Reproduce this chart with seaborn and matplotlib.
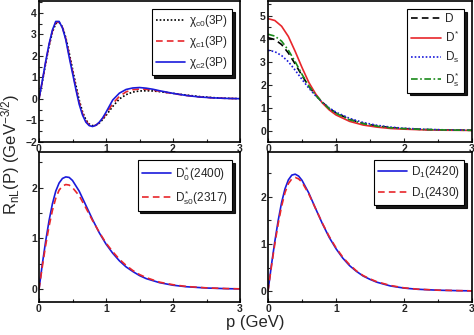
import numpy as np
import pandas as pd
import matplotlib
matplotlib.use("Agg")
import matplotlib.pyplot as plt
import seaborn as sns
from matplotlib.ticker import MultipleLocator

# ---------------- data ----------------
p_chi = [0, 0.05, 0.1, 0.15, 0.2, 0.25, 0.3, 0.35, 0.4, 0.45, 0.5, 0.55, 0.6, 0.65,
         0.7, 0.75, 0.8, 0.85, 0.9, 0.95, 1.0, 1.1, 1.2, 1.3, 1.4, 1.5, 1.6, 1.7,
         1.8, 1.9, 2.0, 2.2, 2.4, 2.6, 2.8, 3.0]
chi_c0 = [0, 0.8, 1.65, 2.45, 3.1, 3.5, 3.55, 3.35, 2.85, 2.15, 1.4, 0.65, -0.05, -0.6,
          -0.97, -1.17, -1.24, -1.22, -1.12, -0.96, -0.77, -0.35, 0.0, 0.2, 0.32, 0.37,
          0.38, 0.37, 0.34, 0.3, 0.26, 0.18, 0.11, 0.06, 0.03, 0.015]
chi_c1 = [0, 0.82, 1.7, 2.5, 3.15, 3.55, 3.58, 3.32, 2.8, 2.05, 1.3, 0.52, -0.15, -0.68,
          -1.03, -1.21, -1.26, -1.22, -1.1, -0.92, -0.7, -0.22, 0.12, 0.33, 0.43, 0.46,
          0.45, 0.41, 0.36, 0.3, 0.25, 0.16, 0.09, 0.05, 0.025, 0.012]
chi_c2 = [0, 0.85, 1.75, 2.55, 3.2, 3.6, 3.6, 3.3, 2.75, 1.95, 1.2, 0.45, -0.25, -0.75,
          -1.08, -1.24, -1.28, -1.22, -1.08, -0.88, -0.62, -0.05, 0.27, 0.44, 0.51, 0.53,
          0.5, 0.45, 0.38, 0.32, 0.26, 0.16, 0.09, 0.05, 0.025, 0.012]

p_s = [0, 0.1, 0.2, 0.3, 0.4, 0.5, 0.6, 0.7, 0.8, 0.9, 1.0, 1.2, 1.4, 1.6, 1.8, 2.0,
       2.3, 2.6, 3.0]
d_D = [4.05, 3.97, 3.75, 3.38, 2.9, 2.4, 1.93, 1.55, 1.23, 0.97, 0.77, 0.49, 0.31,
       0.2, 0.13, 0.085, 0.045, 0.025, 0.01]
d_Dstar = [4.88, 4.8, 4.55, 4.1, 3.45, 2.75, 2.1, 1.6, 1.2, 0.9, 0.68, 0.4, 0.24,
           0.15, 0.09, 0.06, 0.03, 0.015, 0.006]
d_Ds = [3.5, 3.44, 3.27, 3.0, 2.63, 2.23, 1.85, 1.52, 1.23, 0.99, 0.8, 0.53, 0.35,
        0.23, 0.15, 0.1, 0.055, 0.03, 0.013]
d_Dsstar = [4.2, 4.12, 3.9, 3.5, 3.0, 2.45, 1.95, 1.55, 1.22, 0.95, 0.75, 0.47, 0.3,
            0.19, 0.12, 0.08, 0.045, 0.025, 0.01]

p_p = [0, 0.05, 0.1, 0.15, 0.2, 0.25, 0.3, 0.35, 0.4, 0.45, 0.5, 0.6, 0.7, 0.8, 0.9,
       1.0, 1.1, 1.2, 1.3, 1.4, 1.5, 1.6, 1.8, 2.0, 2.2, 2.5, 2.8, 3.0]
d0_2400 = [0, 0.5, 0.95, 1.35, 1.68, 1.93, 2.09, 2.18, 2.21, 2.2, 2.14, 1.93, 1.65,
           1.37, 1.11, 0.89, 0.71, 0.56, 0.44, 0.35, 0.27, 0.21, 0.13, 0.08, 0.05,
           0.025, 0.012, 0.008]
ds0_2317 = [0, 0.45, 0.87, 1.24, 1.55, 1.79, 1.95, 2.03, 2.06, 2.05, 2.0, 1.84, 1.6,
            1.35, 1.12, 0.91, 0.74, 0.59, 0.47, 0.37, 0.29, 0.23, 0.14, 0.09, 0.055,
            0.028, 0.014, 0.009]
d1_2420 = [0, 0.55, 1.05, 1.5, 1.88, 2.17, 2.36, 2.46, 2.48, 2.44, 2.35, 2.08, 1.75,
           1.43, 1.14, 0.9, 0.7, 0.54, 0.42, 0.32, 0.25, 0.19, 0.11, 0.065, 0.04,
           0.02, 0.01, 0.006]
d1_2430 = [0, 0.52, 1.0, 1.43, 1.8, 2.09, 2.28, 2.38, 2.41, 2.38, 2.31, 2.06, 1.75,
           1.44, 1.16, 0.92, 0.72, 0.56, 0.43, 0.33, 0.26, 0.2, 0.12, 0.07, 0.042,
           0.021, 0.011, 0.006]

# ---------------- style ----------------
sns.set_style("ticks")
plt.rcParams['font.family'] = ['Liberation Sans', 'DejaVu Sans']
plt.rcParams['mathtext.fontset'] = 'custom'
plt.rcParams['mathtext.rm'] = 'Liberation Sans'
plt.rcParams['mathtext.it'] = 'Liberation Sans'
plt.rcParams['mathtext.default'] = 'regular'

fig = plt.figure(figsize=(4.74, 3.35), dpi=100)
W, H = 474, 335

def make_ax(x0, x1, y0, y1):
    return fig.add_axes([x0 / W, 1 - y1 / H, (x1 - x0) / W, (y1 - y0) / H])

ax1 = make_ax(39, 240, 1, 142)
ax2 = make_ax(268, 472, 1, 142)
ax3 = make_ax(39, 240, 152, 302)
ax4 = make_ax(268, 472, 152, 302)

lw = 1.2
red = '#e8262b'
blue = '#1a1adb'
# panel 1
sns.lineplot(x=p_chi, y=chi_c0, ax=ax1, color='black', lw=lw, linestyle=(0, (1, 1.2)),
             label=r'$\chi_{c0}$(3P)')
sns.lineplot(x=p_chi, y=chi_c1, ax=ax1, color=red, lw=lw, linestyle=(0, (4, 2.5)),
             label=r'$\chi_{c1}$(3P)')
sns.lineplot(x=p_chi, y=chi_c2, ax=ax1, color=blue, lw=lw, linestyle='-',
             label=r'$\chi_{c2}$(3P)')
ax1.set_ylim(-2, 4.55)

# panel 2
sns.lineplot(x=p_s, y=d_D, ax=ax2, color='black', lw=lw, linestyle=(0, (4, 2.5)), label='D')
sns.lineplot(x=p_s, y=d_Dstar, ax=ax2, color=red, lw=lw, linestyle='-', label=r'D$^*$')
sns.lineplot(x=p_s, y=d_Ds, ax=ax2, color=blue, lw=lw, linestyle=(0, (1, 1.2)), label=r'D$_s$')
sns.lineplot(x=p_s, y=d_Dsstar, ax=ax2, color='#1a8a1a', lw=lw, linestyle=(0, (4, 1.5, 1, 1.5)),
             label=r'D$_s^*$')
ax2.set_ylim(-0.5, 5.65)

# panel 3
sns.lineplot(x=p_p, y=d0_2400, ax=ax3, color=blue, lw=lw, linestyle='-', label=r'D$_0^*$(2400)')
sns.lineplot(x=p_p, y=ds0_2317, ax=ax3, color=red, lw=lw, linestyle=(0, (4, 2.5)),
             label=r'D$_{s0}^*$(2317)')
ax3.set_ylim(-0.25, 2.7)

# panel 4
sns.lineplot(x=p_p, y=d1_2420, ax=ax4, color=blue, lw=lw, linestyle='-', label=r'D$_1$(2420)')
sns.lineplot(x=p_p, y=d1_2430, ax=ax4, color=red, lw=lw, linestyle=(0, (4, 2.5)),
             label=r'D$_1$(2430)')
ax4.set_ylim(-0.23, 2.95)

for ax in (ax1, ax2, ax3, ax4):
    ax.set_xlim(0, 3)
    ax.xaxis.set_major_locator(MultipleLocator(1))
    ax.xaxis.set_minor_locator(MultipleLocator(0.5))
    ax.yaxis.set_major_locator(MultipleLocator(1))
    ax.yaxis.set_minor_locator(MultipleLocator(0.5))
    ax.tick_params(which='both', direction='in', top=False, right=False,
                   labelsize=7.5, pad=1.5, width=0.8)
    ax.tick_params(which='major', length=3)
    ax.tick_params(which='minor', length=2)
    for lab in ax.get_xticklabels() + ax.get_yticklabels():
        lab.set_fontweight('bold')
    for sp in ax.spines.values():
        sp.set_visible(True)
        sp.set_linewidth(1.2)
        sp.set_color('black')
    ax.set_xlabel('')
    ax.set_ylabel('')
    leg = ax.legend(loc='upper right', fontsize=8.5, frameon=True, fancybox=False,
                    shadow={'color': 'black', 'alpha': 0.9}, framealpha=1,
                    edgecolor='black', handlelength=2.5, handletextpad=0.3,
                    borderpad=0.35, labelspacing=0.4, borderaxespad=0.7)
    leg.get_frame().set_linewidth(0.8)

fig.text(0.022, 0.54, r'R$_{nL}$(P) (GeV$^{-3/2}$)', rotation=90, ha='center',
         va='center', fontsize=12)
fig.text(0.538, 0.036, 'p (GeV)', ha='center', va='center', fontsize=12)

fig.savefig('out.png', dpi=100)
